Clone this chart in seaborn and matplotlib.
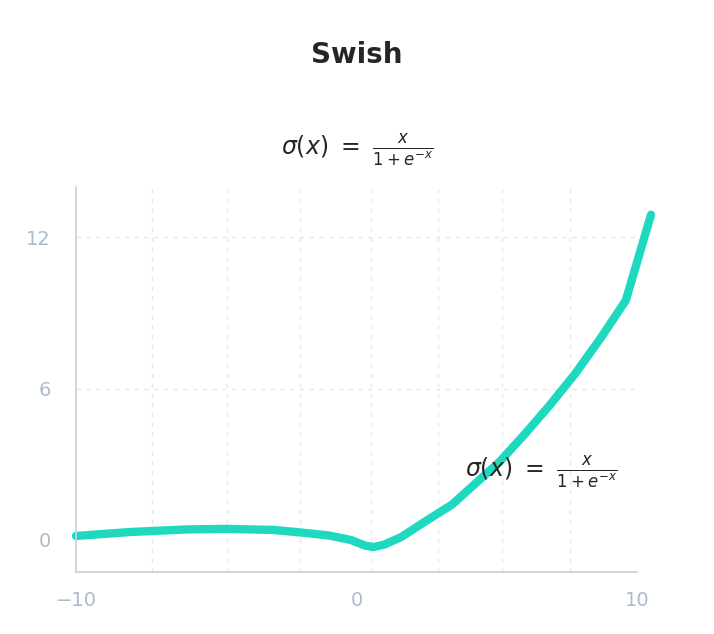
import numpy as np
import pandas as pd
import matplotlib.pyplot as plt
import seaborn as sns

# points
xs = [-10.0, -8.0, -6.0, -4.6, -3.0, -2.0, -1.0, -0.2, 0.3, 0.6, 1.0, 1.6, 2.4, 3.4, 4.2, 5.1, 6.0, 6.9, 7.8, 8.7, 9.6, 10.5]
ys = [0.16, 0.32, 0.42, 0.44, 0.40, 0.30, 0.18, 0.0, -0.22, -0.28, -0.18, 0.12, 0.70, 1.40, 2.20, 3.10, 4.20, 5.36, 6.60, 8.0, 9.5, 12.9]
xticks = [-10, 0, 10]
yticks = [0, 6, 12]

sns.set_theme(style="white")
plt.rcParams['font.family'] = ['DejaVu Sans']
df = pd.DataFrame({'x': xs, 'y': ys})

fig = plt.figure(figsize=(7.14, 6.34), dpi=100)
ax = fig.add_axes([76 / 714, 1 - 572 / 634, (637 - 76) / 714, (572 - 187) / 634])
sns.lineplot(data=df, x='x', y='y', ax=ax, color='#1fd8c0', linewidth=6,
             solid_capstyle='round', clip_on=False)

ax.set_xlim(-10, 10)
ax.set_ylim(-1.27, 14)
ax.set_xticks(xticks)
ax.set_yticks(yticks)
for gx in [-7.3, -4.6, -2.0, 0.5, 2.9, 5.2, 7.6]:
    ax.axvline(gx, color='#e3e7ec', linestyle=(0, (3, 4)), linewidth=1, zorder=0)
for gy in [6, 12]:
    ax.axhline(gy, color='#e3e7ec', linestyle=(0, (3, 4)), linewidth=1, zorder=0)
ax.set_xlabel('')
ax.set_ylabel('')
for s in ['top', 'right']:
    ax.spines[s].set_visible(False)
for s in ['left', 'bottom']:
    ax.spines[s].set_color('#c8d2dc')
ax.tick_params(colors='#aabbcc', labelsize=14, length=0, pad=14)
ax.tick_params(axis='y', pad=18)

formula = r'$\sigma(x)\ =\ \frac{x}{1+e^{-x}}$'
fig.text(0.5, 1 - 150 / 634, formula, ha='center', va='center', fontsize=17)
ax.text(6.6, 2.7, formula, ha='center', va='center', fontsize=17)
fig.suptitle('Swish', fontsize=20, fontweight='bold', y=1 - 55 / 634, va='center')

fig.savefig('out.png', dpi=100)
